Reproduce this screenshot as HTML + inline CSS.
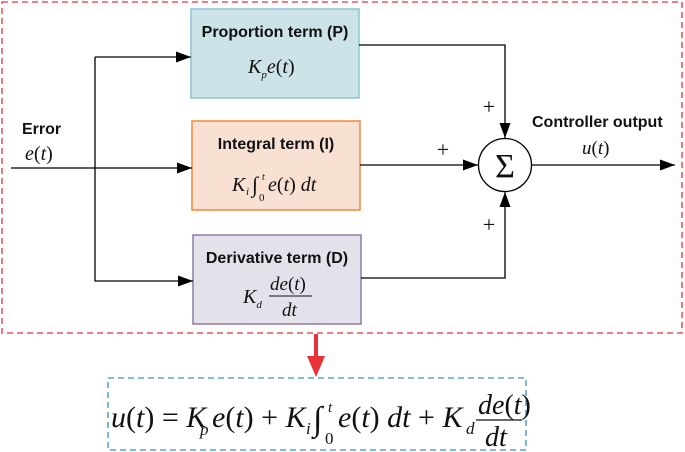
<!DOCTYPE html>
<html><head><meta charset="utf-8"><style>
body{margin:0;background:#fff;}
svg{display:block;}
.b{font-family:"Liberation Sans",sans-serif;font-weight:bold;font-size:16px;fill:#111;}
.m{font-family:"Liberation Serif",serif;font-style:italic;fill:#111;}
.r{font-family:"Liberation Serif",serif;fill:#111;}
</style></head><body>
<svg width="685" height="452" viewBox="0 0 685 452" xmlns="http://www.w3.org/2000/svg">
<defs><marker id="a" markerWidth="15" markerHeight="12" refX="15" refY="6" orient="auto" markerUnits="userSpaceOnUse"><path d="M0,0.5 L15,6 L0,11.5 z" fill="#000"/></marker></defs>
<rect x="2" y="2" width="680" height="331" fill="none" stroke="#e8333b" stroke-width="1.3" stroke-dasharray="6,4"/>
<rect x="191" y="9" width="168" height="89" fill="#cce3e8" stroke="#8fc3d3" stroke-width="1.5"/>
<rect x="192" y="121" width="168" height="89" fill="#f8e1d2" stroke="#f08a3c" stroke-width="1.5"/>
<rect x="193" y="235" width="168" height="89" fill="#e4e1ea" stroke="#8a7aa8" stroke-width="1.5"/>
<text class="b" x="275" y="37" text-anchor="middle">Proportion term (P)</text>
<text class="b" x="276" y="149" text-anchor="middle">Integral term (I)</text>
<text class="b" x="277" y="263" text-anchor="middle">Derivative term (D)</text>
<text class="m" x="248" y="73" font-size="20">K<tspan font-size="11" dy="5">p</tspan><tspan dy="-5">e</tspan><tspan font-style="normal">(</tspan>t<tspan font-style="normal">)</tspan></text>
<text class="m" x="232" y="191" font-size="20">K</text>
<text class="m" x="246" y="195" font-size="11">i</text>
<text class="r" x="252" y="192" font-size="22">∫</text>
<text class="m" x="262" y="180" font-size="10">t</text>
<text class="r" x="259" y="201" font-size="11">0</text>
<text class="m" x="268" y="191" font-size="20">e<tspan font-style="normal">(</tspan>t<tspan font-style="normal">)</tspan> dt</text>
<text class="m" x="243" y="303" font-size="20">K<tspan font-size="11" dy="5">d</tspan></text>
<text class="m" x="270" y="290" font-size="19">de<tspan font-style="normal">(</tspan>t<tspan font-style="normal">)</tspan></text>
<line x1="269" y1="296" x2="312" y2="296" stroke="#111" stroke-width="1"/>
<text class="m" x="282" y="316" font-size="19">dt</text>
<text class="b" x="22" y="134">Error</text>
<text class="m" x="25" y="160" font-size="20">e<tspan font-style="normal">(</tspan>t<tspan font-style="normal">)</tspan></text>
<g stroke="#000" stroke-width="1.3" fill="none">
<line x1="11" y1="168" x2="192" y2="168" marker-end="url(#a)"/>
<polyline points="95,57 95,281 193,281" marker-end="url(#a)"/>
<line x1="95" y1="57" x2="191" y2="57" marker-end="url(#a)"/>
<polyline points="359,45 505,45 505,138" marker-end="url(#a)"/>
<line x1="360" y1="165" x2="478" y2="165" marker-end="url(#a)"/>
<polyline points="361,278 505,278 505,192" marker-end="url(#a)"/>
<line x1="532" y1="165" x2="675" y2="165" marker-end="url(#a)"/>
<circle cx="505" cy="165" r="26.5" fill="#fff"/>
</g>
<text class="r" x="505" y="177" font-size="34" text-anchor="middle">Σ</text>
<text class="r" x="489" y="114" font-size="22" text-anchor="middle">+</text>
<text class="r" x="443" y="157" font-size="22" text-anchor="middle">+</text>
<text class="r" x="489" y="232" font-size="22" text-anchor="middle">+</text>
<text class="b" x="532" y="127">Controller output</text>
<text class="m" x="582" y="154" font-size="19">u<tspan font-style="normal">(</tspan>t<tspan font-style="normal">)</tspan></text>
<line x1="316" y1="334" x2="316" y2="360" stroke="#e8333b" stroke-width="4"/>
<path d="M307,356 L325,356 L316,377 z" fill="#e8333b"/>
<rect x="108" y="378" width="418" height="72" fill="none" stroke="#3a8ed0" stroke-width="1.3" stroke-dasharray="6,4"/>
<text class="m" x="111" y="427" font-size="30">u<tspan font-style="normal">(</tspan>t<tspan font-style="normal">) = </tspan>K</text>
<text class="m" x="200" y="435" font-size="17">p</text>
<text class="m" x="212" y="427" font-size="30">e<tspan font-style="normal">(</tspan>t<tspan font-style="normal">) + </tspan>K</text>
<text class="m" x="306" y="434" font-size="17">i</text>
<text class="r" x="313" y="430" font-size="34">∫</text>
<text class="m" x="328" y="412" font-size="15">t</text>
<text class="r" x="325" y="444" font-size="17">0</text>
<text class="m" x="338" y="427" font-size="30">e<tspan font-style="normal">(</tspan>t<tspan font-style="normal">) </tspan>dt<tspan font-style="normal"> + </tspan>K</text>
<text class="m" x="466" y="434" font-size="17">d</text>
<text class="m" x="478" y="414" font-size="28">de<tspan font-style="normal">(</tspan>t<tspan font-style="normal">)</tspan></text>
<line x1="476" y1="420" x2="522" y2="420" stroke="#111" stroke-width="1.2"/>
<text class="m" x="485" y="446" font-size="28">dt</text>
</svg>
</body></html>
